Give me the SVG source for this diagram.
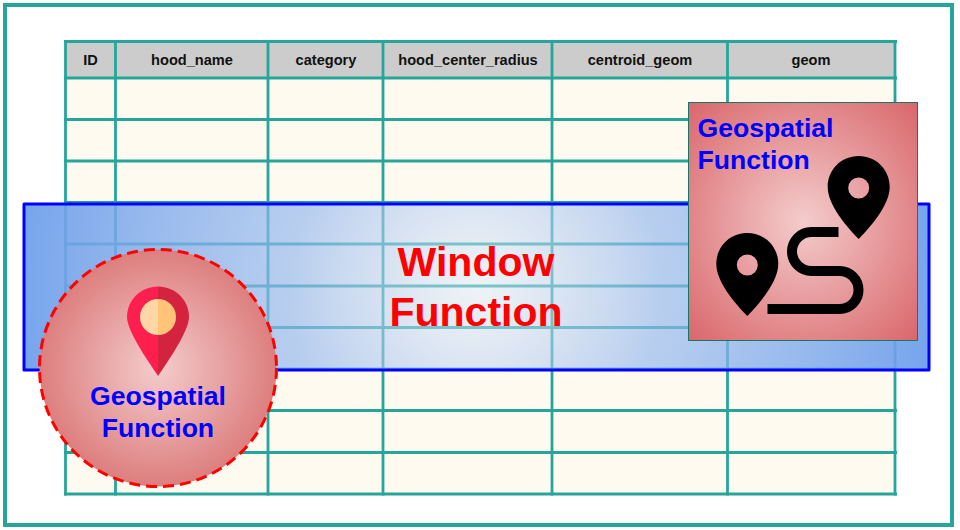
<svg xmlns="http://www.w3.org/2000/svg" width="960" height="530" viewBox="0 0 960 530">
<style>
text{font-family:"Liberation Sans",Arial,sans-serif;font-weight:bold;text-anchor:middle}
.h{font-size:14.6px;fill:#111}
.g{font-size:26.6px;fill:#0000ff}
.w{font-size:41px;fill:#ff0000}
.grid line{stroke:#26a69a;stroke-width:2.8}
</style>
<defs>
<radialGradient id="blue" gradientUnits="userSpaceOnUse" cx="476" cy="286" r="460">
<stop offset="0" stop-color="#daeaff" stop-opacity=".45"/>
<stop offset=".18" stop-color="#bcd2f4" stop-opacity=".55"/>
<stop offset=".4" stop-color="#92b7ee" stop-opacity=".65"/>
<stop offset="1" stop-color="#6d9eeb" stop-opacity=".94"/>
</radialGradient>
<radialGradient id="redC" cx=".5" cy=".5" r=".5">
<stop offset="0" stop-color="#f4cccc"/>
<stop offset="1" stop-color="#dd7e7e"/>
</radialGradient>
<radialGradient id="redS" cx=".5" cy=".5" r=".71">
<stop offset="0" stop-color="#f4cccc"/>
<stop offset="1" stop-color="#d9666a"/>
</radialGradient>
</defs>
<rect width="960" height="530" fill="#fff"/>
<rect id="frame" x="5" y="5" width="947" height="520" fill="#fff" stroke="#26a69a" stroke-width="4"/>
<g id="table">
<rect x="65.5" y="78" width="830" height="416" fill="#fffaf0"/>
<rect x="65.5" y="41.5" width="830" height="36.5" fill="#cccccc"/>
<g class="grid">
<line x1="64" y1="41.5" x2="897" y2="41.5"/>
<line x1="64" y1="78" x2="897" y2="78"/>
<line x1="64" y1="119.500" x2="897" y2="119.500"/>
<line x1="64" y1="161" x2="897" y2="161"/>
<line x1="64" y1="202.500" x2="897" y2="202.500"/>
<line x1="64" y1="244" x2="897" y2="244"/>
<line x1="64" y1="286" x2="897" y2="286"/>
<line x1="64" y1="327.500" x2="897" y2="327.500"/>
<line x1="64" y1="369" x2="897" y2="369"/>
<line x1="64" y1="410.500" x2="897" y2="410.500"/>
<line x1="64" y1="452.500" x2="897" y2="452.500"/>
<line x1="64" y1="494" x2="897" y2="494"/>
<line x1="65.500" y1="40" x2="65.500" y2="495.500"/>
<line x1="115.500" y1="40" x2="115.500" y2="495.500"/>
<line x1="268" y1="40" x2="268" y2="495.500"/>
<line x1="383" y1="40" x2="383" y2="495.500"/>
<line x1="552" y1="40" x2="552" y2="495.500"/>
<line x1="727.500" y1="40" x2="727.500" y2="495.500"/>
<line x1="895" y1="40" x2="895" y2="495.500"/>
</g>
<text class="h" x="90.500" y="64.500">ID</text>
<text class="h" x="192" y="64.500">hood_name</text>
<text class="h" x="326" y="64.500">category</text>
<text class="h" x="468" y="64.500">hood_center_radius</text>
<text class="h" x="640" y="64.500">centroid_geom</text>
<text class="h" x="811" y="64.500">geom</text>
</g>
<g id="window-function">
<rect x="24" y="204" width="905" height="166" fill="url(#blue)" stroke="#0000ff" stroke-width="3" stroke-linejoin="round"/>
<text class="w" x="476" y="276">Window</text>
<text class="w" x="476" y="326">Function</text>
</g>
<g id="geospatial-circle">
<circle cx="158" cy="368" r="118.500" fill="url(#redC)" stroke="#ff0000" stroke-width="3" stroke-dasharray="11 6"/>
<path d="M158,286.500C140.500,286.500 127,300.500 127,317C127,330 145,357 158,376Z" fill="#ff1f4f"/>
<path d="M158,286.500C175.500,286.500 189,300.500 189,317C189,330 171,357 158,376Z" fill="#d4233f"/>
<path d="M158,299a18,18 0 0 0 0,36Z" fill="#ffd7a5"/>
<path d="M158,299a18,18 0 0 1 0,36Z" fill="#ffc477"/>
<text class="g" x="158" y="405">Geospatial</text>
<text class="g" x="158" y="437">Function</text>
</g>
<g id="geospatial-square">
<rect x="688.500" y="102.500" width="229" height="238" fill="url(#redS)" stroke="#0f7a6a" stroke-width="1"/>
<text class="g" x="697.500" y="137" style="text-anchor:start">Geospatial</text>
<text class="g" x="697.500" y="169" style="text-anchor:start">Function</text>
<path fill-rule="evenodd" d="M858.700,156C841,156 827.700,170 827.700,187C827.700,204 845,225 858.700,239C872.400,225 889.700,204 889.700,187C889.700,170 876.400,156 858.700,156ZM858.700,177.500a10.500,10.500 0 1 1 0,21a10.500,10.500 0 1 1 0,-21Z"/>
<path fill-rule="evenodd" d="M747.300,233C729.600,233 716.300,247 716.300,264C716.300,281 733.600,302 747.300,316C761,302 778.300,281 778.300,264C778.300,247 765,233 747.300,233ZM747.300,254.500a10.500,10.500 0 1 1 0,21a10.500,10.500 0 1 1 0,-21Z"/>
<path d="M838.500,232H811.500A19.500,19.500 0 0 0 811.500,271H839.500A19,19 0 0 1 839.500,309H767.500" fill="none" stroke="#000" stroke-width="10"/>
</g>
</svg>
